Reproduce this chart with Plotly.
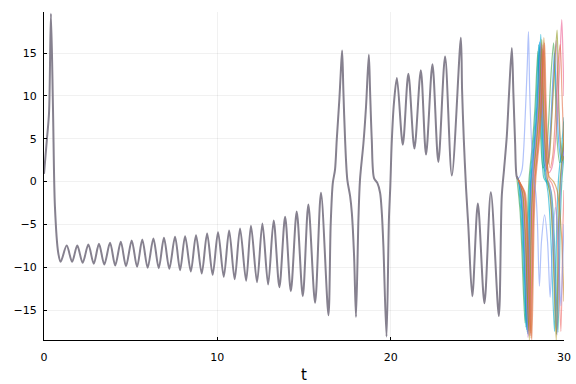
import plotly.graph_objects as go

# ---------------- data ----------------
# shared trajectory (all ensemble members overlap until t ~ 27.3)
prefix_t = [0.00, 0.17, 0.29, 0.40, 0.52, 0.63, 0.82, 0.96, 1.31, 1.62, 1.92, 2.23, 2.56, 2.87,
            3.17, 3.48, 3.81, 4.11, 4.43, 4.73, 5.06, 5.37, 5.67, 5.98, 6.31, 6.62, 6.92, 7.23,
            7.56, 7.85, 8.14, 8.47, 8.77, 9.10, 9.41, 9.73, 10.04, 10.37, 10.68, 11.00, 11.31,
            11.66, 11.94, 12.29, 12.60, 12.93, 13.25, 13.58, 13.91, 14.24, 14.58, 14.93, 15.25,
            15.64, 15.98, 16.41, 16.54, 16.66, 16.79, 16.89, 17.04, 17.12, 17.20, 17.27, 17.37,
            17.50, 17.66, 17.76, 17.89, 18.00, 18.14, 18.23, 18.43, 18.58, 18.74, 18.81, 18.91,
            19.04, 19.23, 19.39, 19.49, 19.58, 19.76, 19.90, 19.98, 20.06, 20.19, 20.36, 20.70,
            21.02, 21.37, 21.74, 22.04, 22.41, 22.75, 23.14, 23.53, 24.05, 24.12, 24.22, 24.35,
            24.48, 24.71, 25.03, 25.41, 25.78, 26.24, 26.41, 26.54, 26.70, 26.83, 26.99, 27.08,
            27.18, 27.27, 27.37]
prefix_x = [0.9, 5.0, 8.0, 19.6, 8.4, -2.9, -8.3, -9.37, -7.47, -9.37, -7.47, -9.49, -7.35, -9.6,
            -7.27, -9.68, -7.15, -9.8, -7.04, -9.88, -6.88, -9.96, -6.77, -10.07, -6.65, -10.12,
            -6.57, -10.19, -6.45, -10.35, -6.38, -10.5, -6.27, -10.73, -6.07, -10.89, -5.92,
            -11.12, -5.72, -11.4, -5.48, -11.59, -5.17, -11.75, -4.9, -12.02, -4.55, -12.33,
            -4.12, -12.8, -3.5, -13.38, -2.68, -14.15, -1.32, -15.6, -5.0, -0.2, 1.4, 4.9, 9.6,
            12.7, 15.3, 10.7, 4.9, 0.2, -1.7, -3.65, -8.7, -15.8, -4.4, 0.2, 4.5, 8.8, 14.8, 10.7,
            4.9, 0.4, -0.16, -1.3, -3.65, -7.5, -18.1, -4.4, -0.5, 4.5, 9.2, 12.1, 4.3, 12.6,
            3.85, 13.0, 3.15, 13.7, 2.3, 14.6, 0.7, 16.8, 10.7, 4.9, -0.8, -5.2, -13.4, -2.57,
            -14.2, -1.25, -15.7, -1.7, 1.4, 5.3, 10.3, 15.6, 10.3, 4.5, 0.6, 0.2]

# diverging ensemble members after t ~ 27.3
m01_t = [27.27, 27.37, 27.47, 27.56, 27.75, 27.89, 27.98, 28.18, 28.33, 28.49, 28.56, 28.66, 28.79, 28.95, 29.10, 29.25, 29.40, 29.50, 29.60, 29.75, 29.90, 30.00]
m01_x = [0.6, -1.3, -3.6, -7.5, -16.5, -4.4, 0.2, 4.5, 8.8, 15.2, 10.7, 4.9, 1.6, 2.5, 6.5, 12.5, 16.2, 11.0, 5.0, 2.2, 3.5, 7.0]
m02_t = [27.27, 27.37, 27.42, 27.52, 27.61, 27.80, 27.94, 28.03, 28.23, 28.38, 28.54, 28.61, 28.71, 28.84, 29.03, 29.19, 29.29, 29.38, 29.57, 29.71, 29.80, 30.00]
m02_x = [0.6, 0.2, -1.3, -3.6, -7.5, -17.0, -4.4, 0.2, 4.5, 8.8, 16.0, 10.7, 4.9, 0.4, -0.2, -1.3, -3.6, -7.5, -17.8, -4.4, 0.2, 4.5]
m03_t = [27.27, 27.37, 27.47, 27.57, 27.66, 27.85, 27.99, 28.08, 28.28, 28.43, 28.59, 28.66, 28.76, 28.90, 29.05, 29.20, 29.35, 29.45, 29.55, 29.70, 29.85, 30.00]
m03_x = [0.6, 0.2, -1.3, -3.6, -7.5, -17.3, -4.4, 0.2, 4.5, 8.8, 16.3, 10.7, 4.9, 1.2, 2.0, 5.5, 11.5, 15.0, 10.5, 4.5, 2.2, 4.0]
m04_t = [27.27, 27.37, 27.50, 27.60, 27.69, 27.88, 28.02, 28.11, 28.31, 28.46, 28.62, 28.69, 28.79, 28.92, 29.11, 29.27, 29.37, 29.46, 29.65, 29.79, 29.88, 30.00]
m04_x = [0.6, 0.2, -1.3, -3.6, -7.5, -17.6, -4.4, 0.2, 4.5, 8.8, 15.8, 10.7, 4.9, 0.4, -0.2, -1.3, -3.6, -7.5, -17.6, -4.4, 0.2, 3.0]
m05_t = [27.27, 27.37, 27.52, 27.62, 27.71, 27.90, 28.04, 28.13, 28.33, 28.48, 28.66, 28.73, 28.83, 28.96, 29.08, 29.17, 29.26, 29.45, 29.59, 29.68, 29.88, 30.00]
m05_x = [0.6, 0.2, -1.3, -3.6, -7.5, -17.8, -4.4, 0.2, 4.5, 8.8, 17.2, 10.7, 4.9, 0.4, -1.3, -3.6, -7.5, -17.5, -4.4, 0.2, 4.5, 7.5]
m06_t = [27.27, 27.37, 27.54, 27.64, 27.73, 27.92, 28.06, 28.15, 28.35, 28.50, 28.66, 28.73, 28.83, 28.97, 29.12, 29.27, 29.42, 29.55, 29.65, 29.80, 29.92, 30.00]
m06_x = [0.6, 0.2, -1.3, -3.6, -7.5, -18.2, -4.4, 0.2, 4.5, 8.8, 16.2, 10.7, 4.9, 1.5, 2.8, 7.0, 13.0, 16.5, 10.0, 4.0, 2.5, 3.5]
m07_t = [27.27, 27.37, 27.58, 27.68, 27.77, 27.96, 28.10, 28.19, 28.39, 28.54, 28.70, 28.77, 28.87, 29.00, 29.15, 29.25, 29.33, 29.42, 29.60, 29.74, 29.83, 30.00]
m07_x = [0.6, 0.2, -1.3, -3.6, -7.5, -18.0, -4.4, 0.2, 4.5, 8.8, 15.7, 10.7, 4.9, 0.4, -0.2, -1.3, -3.6, -7.5, -17.9, -4.4, 0.2, 4.0]
m08_t = [27.27, 27.37, 27.60, 27.70, 27.79, 27.98, 28.12, 28.21, 28.41, 28.56, 28.72, 28.79, 28.89, 29.02, 29.16, 29.30, 29.45, 29.60, 29.68, 29.78, 29.90, 30.00]
m08_x = [0.6, 0.2, -1.3, -3.6, -7.5, -17.4, -4.4, 0.2, 4.5, 8.8, 16.6, 10.7, 4.9, 1.8, 3.0, 7.5, 13.0, 17.7, 11.0, 5.0, 2.4, 3.0]
m09_t = [27.27, 27.37, 27.62, 27.72, 27.81, 28.00, 28.14, 28.23, 28.43, 28.58, 28.74, 28.81, 28.91, 29.04, 29.17, 29.27, 29.36, 29.55, 29.69, 29.78, 30.00]
m09_x = [0.6, 0.2, -1.3, -3.6, -7.5, -18.5, -4.4, 0.2, 4.5, 8.8, 15.5, 10.7, 4.9, 0.4, -1.3, -3.6, -7.5, -18.5, -4.4, 0.2, 5.0]
m10_t = [27.27, 27.37, 27.67, 27.77, 27.86, 28.05, 28.19, 28.28, 28.48, 28.63, 28.79, 28.86, 28.96, 29.10, 29.28, 29.45, 29.60, 29.75, 29.87, 29.95, 30.00]
m10_x = [0.6, 0.2, -1.3, -3.6, -7.5, -18.0, -4.4, 0.2, 4.5, 8.8, 16.0, 10.7, 4.9, 1.0, 1.5, 3.5, 7.5, 13.5, 18.9, 14.0, 10.0]
m11_t = [27.27, 27.37, 27.70, 27.80, 27.89, 28.08, 28.22, 28.31, 28.51, 28.66, 28.82, 28.89, 28.99, 29.12, 29.30, 29.46, 29.56, 29.65, 29.82, 29.94, 30.00]
m11_x = [0.6, 0.2, -1.3, -3.6, -7.5, -17.7, -4.4, 0.2, 4.5, 8.8, 15.3, 10.7, 4.9, 0.4, -0.2, -1.3, -3.6, -7.5, -17.5, -5.0, -1.0]
m12_t = [27.27, 27.37, 27.72, 27.82, 27.91, 28.10, 28.24, 28.33, 28.53, 28.68, 28.84, 28.91, 29.01, 29.14, 29.40, 29.60, 29.72, 29.85, 30.00]
m12_x = [0.6, 0.2, -1.3, -3.6, -7.5, -18.3, -4.4, 0.2, 4.5, 8.8, 16.8, 10.7, 4.9, 0.6, 0.0, -1.0, -2.8, -6.0, -14.0]
m13_t = [27.27, 27.37, 27.76, 27.86, 27.95, 28.14, 28.28, 28.37, 28.57, 28.72, 28.88, 28.95, 29.05, 29.20, 29.35, 29.50, 29.65, 29.78, 29.88, 30.00]
m13_x = [0.6, 0.2, -1.3, -3.6, -7.5, -18.6, -4.4, 0.2, 4.5, 8.8, 16.2, 10.7, 4.9, 1.6, 3.0, 7.5, 13.5, 16.0, 10.5, 3.5]
m14_t = [27.27, 27.37, 27.57, 27.67, 27.76, 27.88, 27.95, 28.02, 28.12, 28.25, 28.38, 28.47, 28.58, 28.70, 28.88, 29.05, 29.20, 29.32, 29.50, 29.65, 29.82, 29.95, 30.00]
m14_x = [0.6, 0.4, 1.3, 3.6, 7.5, 13.5, 17.5, 10.7, 4.9, 0.4, -1.5, -5.0, -12.2, -7.0, -3.9, -7.0, -13.5, -8.0, -3.0, -6.0, -14.5, -8.0, -5.0]

members = [(m01_t, m01_x), (m02_t, m02_x), (m03_t, m03_x), (m04_t, m04_x), (m05_t, m05_x),
           (m06_t, m06_x), (m07_t, m07_x), (m08_t, m08_x), (m09_t, m09_x), (m10_t, m10_x),
           (m11_t, m11_x), (m12_t, m12_x), (m13_t, m13_x), (m14_t, m14_x)]

x_ticks = [0, 10, 20, 30]
y_ticks = [-15, -10, -5, 0, 5, 10, 15]

# ---------------- style ----------------
member_colors = ["#3EA44E", "#00AAAE", "#009AFA", "#00A98D", "#00A9CD", "#C371D2", "#9B7FE9",
                 "#8E971D", "#AC8E18", "#ED5E93", "#F16C6A", "#C68225", "#E36F47", "#7F9CF8"]

fig = go.Figure()
for (tt, xx), col in zip(members, member_colors):
    fig.add_trace(go.Scatter(x=tt, y=xx, mode="lines", opacity=0.6,
                             line=dict(color=col, width=1.2, shape="spline", smoothing=0.85),
                             showlegend=False, hoverinfo="skip"))

fig.add_trace(go.Scatter(x=prefix_t, y=prefix_x, mode="lines",
                         line=dict(color="#86818f", width=2.0, shape="spline", smoothing=0.85),
                         showlegend=False))

axis_common = dict(showgrid=True, gridcolor="rgba(0,0,0,0.055)", gridwidth=1,
                   showline=True, linecolor="black", linewidth=1, mirror=False,
                   ticks="inside", ticklen=3, tickcolor="black", zeroline=False,
                   automargin=False,
                   tickfont=dict(family="DejaVu Sans", size=11, color="black"))

fig.update_layout(
    width=576, height=384,
    margin=dict(l=44, r=12, t=12, b=44),
    paper_bgcolor="white", plot_bgcolor="white",
    showlegend=False,
    xaxis=dict(range=[0, 30], tickvals=x_ticks, ticklabelstandoff=7,
               title=dict(text="t", font=dict(family="DejaVu Sans", size=15, color="black"), standoff=6),
               **axis_common),
    yaxis=dict(range=[-18.5, 19.8], tickvals=y_ticks, ticklabelstandoff=4, **axis_common),
)

fig.write_html("out.html")
